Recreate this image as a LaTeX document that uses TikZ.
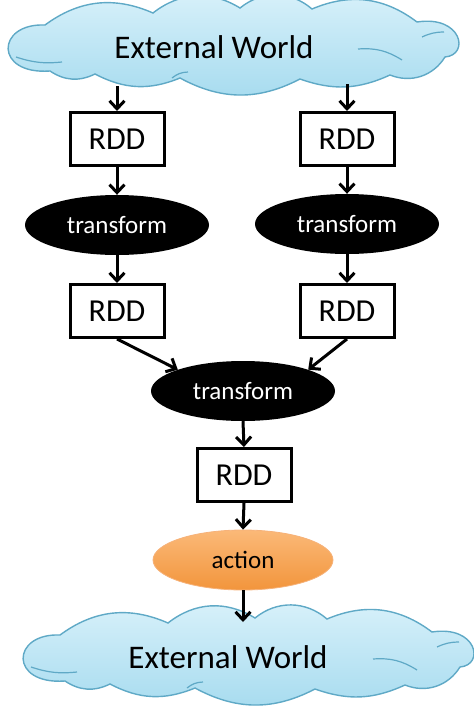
\documentclass[tikz,border=0pt]{standalone}
\usepackage{fontspec}
\setmainfont{Carlito}
\usetikzlibrary{shapes.geometric,arrows.meta}
\definecolor{cloudtop}{HTML}{D8F1FA}
\definecolor{cloudbot}{HTML}{A6DBEF}
\definecolor{cloudline}{HTML}{5FA9C6}
\definecolor{acttop}{HTML}{FBB978}
\definecolor{actbot}{HTML}{F2953C}
\definecolor{actline}{HTML}{F6B27A}
\tikzset{
  cloudfill/.style={draw=cloudline, line width=1.4pt, top color=cloudtop, bottom color=cloudbot},
  cloudfold/.style={draw=cloudline, line width=1.2pt},
  cloudtext/.style={font=\fontsize{33}{33}\selectfont, inner sep=0pt},
  rddbox/.style={draw, line width=3pt, minimum width=94pt, minimum height=53pt,
    inner sep=0pt, font=\fontsize{32}{32}\selectfont},
  xform/.style={ellipse, fill=black, text=white, minimum width=184pt,
    minimum height=60pt, inner sep=0pt, font=\fontsize{25}{25}\selectfont},
  actnode/.style={ellipse, top color=acttop, bottom color=actbot, draw=actline,
    line width=0.8pt, minimum width=180pt, minimum height=60pt, inner sep=0pt,
    font=\fontsize{25}{25}\selectfont},
  arr/.style={line width=3pt, -{Straight Barb[length=8pt,width=15pt]}},
}
\newcommand\extcloud{%
  \path[cloudfill] (50,72) .. controls (-6,76) and (-4,24) .. (45,26)
    to[bend left=30] (153,14) to[bend left=35] (240,9) to[bend left=40] (312,10)
    to[bend left=30] (417,23) .. controls (462,16) and (470,56) .. (445,58)
    to[bend left=40] (390,76) to[bend left=22] (300,80)
    to[bend left=28] (180,79) to[bend left=25] (95,75) to[bend left=30] cycle;
  \draw[cloudfold] (16,58) to[bend right=12] (62,63);
  \draw[cloudfold] (358,50) to[bend left=18] (402,61);
  \draw[cloudfold] (422,38) to[bend left=12] (444,33);
  \draw[cloudfold] (172,79) to[bend left=18] (188,73);
}
\begin{document}
\begin{tikzpicture}[x=1pt,y=-1pt]
\useasboundingbox (0,0) rectangle (474,707);
\begin{scope}[shift={(0,-1)}]\extcloud\end{scope}
\begin{scope}[shift={(15,609)}]\extcloud\end{scope}
\node[cloudtext] (top) at (214,47) {External World};
\node[cloudtext] (bot) at (228,657) {External World};
\coordinate (tl) at (117,86);
\coordinate (tr) at (347,84);
\node[rddbox] (lb1) at (117,139) {RDD};
\node[rddbox] (rb1) at (347,139) {RDD};
\node[xform] (lx) at (117,225) {transform};
\node[xform] (rx) at (347,224) {transform};
\node[rddbox] (lb2) at (117,311) {RDD};
\node[rddbox] (rb2) at (347,311) {RDD};
\node[xform] (mx) at (243,391) {transform};
\node[rddbox] (b3) at (244,475) {RDD};
\node[actnode] (act) at (243,560) {action};
\coordinate (bc) at (243,622);
\draw[arr] (tl) -- (lb1.north);
\draw[arr] (tr) -- (rb1.north);
\draw[arr] (lb1.south) -- (lx.north);
\draw[arr] (rb1.south) -- (rx.north);
\draw[arr] (lx.south) -- (lb2.north);
\draw[arr] (rx.south) -- (rb2.north);
\draw[arr] (lb2.south) -- (mx.north west);
\draw[arr] (rb2.south) -- (mx.north east);
\draw[arr] (mx.south) -- (b3.north);
\draw[arr] (b3.south) -- (act.north);
\draw[arr] (act.south) -- (bc);
\end{tikzpicture}
\end{document}
